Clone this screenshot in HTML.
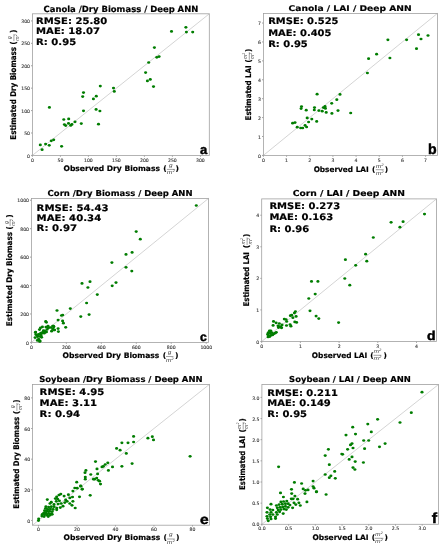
<!DOCTYPE html>
<html><head><meta charset="utf-8"><style>
html,body{margin:0;padding:0;background:#fff;}
svg{display:block;}
</style></head><body>
<svg width="444" height="550" viewBox="0 0 444 550" text-rendering="geometricPrecision">
<rect width="444" height="550" fill="#fff"/>
<line x1="32.4" y1="155.4" x2="209.3" y2="13.8" stroke="#bdbdbd" stroke-width="0.65"/>
<line x1="32.4" y1="155.4" x2="32.4" y2="156.7" stroke="#555" stroke-width="0.6"/>
<line x1="31.1" y1="155.4" x2="32.4" y2="155.4" stroke="#555" stroke-width="0.6"/>
<line x1="60.4" y1="155.4" x2="60.4" y2="156.7" stroke="#555" stroke-width="0.6"/>
<line x1="31.1" y1="132.99" x2="32.4" y2="132.99" stroke="#555" stroke-width="0.6"/>
<line x1="88.4" y1="155.4" x2="88.4" y2="156.7" stroke="#555" stroke-width="0.6"/>
<line x1="31.1" y1="110.58" x2="32.4" y2="110.58" stroke="#555" stroke-width="0.6"/>
<line x1="116.4" y1="155.4" x2="116.4" y2="156.7" stroke="#555" stroke-width="0.6"/>
<line x1="31.1" y1="88.16" x2="32.4" y2="88.16" stroke="#555" stroke-width="0.6"/>
<line x1="144.4" y1="155.4" x2="144.4" y2="156.7" stroke="#555" stroke-width="0.6"/>
<line x1="31.1" y1="65.75" x2="32.4" y2="65.75" stroke="#555" stroke-width="0.6"/>
<line x1="172.4" y1="155.4" x2="172.4" y2="156.7" stroke="#555" stroke-width="0.6"/>
<line x1="31.1" y1="43.34" x2="32.4" y2="43.34" stroke="#555" stroke-width="0.6"/>
<line x1="200.4" y1="155.4" x2="200.4" y2="156.7" stroke="#555" stroke-width="0.6"/>
<line x1="31.1" y1="20.93" x2="32.4" y2="20.93" stroke="#555" stroke-width="0.6"/>
<rect x="32.4" y="13.8" width="176.9" height="141.6" fill="none" stroke="#a0a0a0" stroke-width="0.8"/>
<line x1="263.4" y1="155.4" x2="437.4" y2="13.4" stroke="#bdbdbd" stroke-width="0.65"/>
<line x1="263.4" y1="155.4" x2="263.4" y2="156.7" stroke="#555" stroke-width="0.6"/>
<line x1="262.1" y1="155.4" x2="263.4" y2="155.4" stroke="#555" stroke-width="0.6"/>
<line x1="286.57" y1="155.4" x2="286.57" y2="156.7" stroke="#555" stroke-width="0.6"/>
<line x1="262.1" y1="136.49" x2="263.4" y2="136.49" stroke="#555" stroke-width="0.6"/>
<line x1="309.74" y1="155.4" x2="309.74" y2="156.7" stroke="#555" stroke-width="0.6"/>
<line x1="262.1" y1="117.58" x2="263.4" y2="117.58" stroke="#555" stroke-width="0.6"/>
<line x1="332.91" y1="155.4" x2="332.91" y2="156.7" stroke="#555" stroke-width="0.6"/>
<line x1="262.1" y1="98.68" x2="263.4" y2="98.68" stroke="#555" stroke-width="0.6"/>
<line x1="356.08" y1="155.4" x2="356.08" y2="156.7" stroke="#555" stroke-width="0.6"/>
<line x1="262.1" y1="79.77" x2="263.4" y2="79.77" stroke="#555" stroke-width="0.6"/>
<line x1="379.25" y1="155.4" x2="379.25" y2="156.7" stroke="#555" stroke-width="0.6"/>
<line x1="262.1" y1="60.86" x2="263.4" y2="60.86" stroke="#555" stroke-width="0.6"/>
<line x1="402.41" y1="155.4" x2="402.41" y2="156.7" stroke="#555" stroke-width="0.6"/>
<line x1="262.1" y1="41.95" x2="263.4" y2="41.95" stroke="#555" stroke-width="0.6"/>
<line x1="425.58" y1="155.4" x2="425.58" y2="156.7" stroke="#555" stroke-width="0.6"/>
<line x1="262.1" y1="23.04" x2="263.4" y2="23.04" stroke="#555" stroke-width="0.6"/>
<rect x="263.4" y="13.4" width="174" height="142" fill="none" stroke="#a0a0a0" stroke-width="0.8"/>
<line x1="31.4" y1="342.4" x2="208.5" y2="198.4" stroke="#bdbdbd" stroke-width="0.65"/>
<line x1="31.4" y1="342.4" x2="31.4" y2="343.7" stroke="#555" stroke-width="0.6"/>
<line x1="30.1" y1="342.4" x2="31.4" y2="342.4" stroke="#555" stroke-width="0.6"/>
<line x1="66.37" y1="342.4" x2="66.37" y2="343.7" stroke="#555" stroke-width="0.6"/>
<line x1="30.1" y1="313.97" x2="31.4" y2="313.97" stroke="#555" stroke-width="0.6"/>
<line x1="101.33" y1="342.4" x2="101.33" y2="343.7" stroke="#555" stroke-width="0.6"/>
<line x1="30.1" y1="285.54" x2="31.4" y2="285.54" stroke="#555" stroke-width="0.6"/>
<line x1="136.3" y1="342.4" x2="136.3" y2="343.7" stroke="#555" stroke-width="0.6"/>
<line x1="30.1" y1="257.11" x2="31.4" y2="257.11" stroke="#555" stroke-width="0.6"/>
<line x1="171.26" y1="342.4" x2="171.26" y2="343.7" stroke="#555" stroke-width="0.6"/>
<line x1="30.1" y1="228.68" x2="31.4" y2="228.68" stroke="#555" stroke-width="0.6"/>
<line x1="206.23" y1="342.4" x2="206.23" y2="343.7" stroke="#555" stroke-width="0.6"/>
<line x1="30.1" y1="200.25" x2="31.4" y2="200.25" stroke="#555" stroke-width="0.6"/>
<rect x="31.4" y="198.4" width="177.1" height="144" fill="none" stroke="#a0a0a0" stroke-width="0.8"/>
<line x1="261.7" y1="341.5" x2="436.5" y2="198.9" stroke="#bdbdbd" stroke-width="0.65"/>
<line x1="261.7" y1="341.5" x2="261.7" y2="342.8" stroke="#555" stroke-width="0.6"/>
<line x1="260.4" y1="341.5" x2="261.7" y2="341.5" stroke="#555" stroke-width="0.6"/>
<line x1="300.4" y1="341.5" x2="300.4" y2="342.8" stroke="#555" stroke-width="0.6"/>
<line x1="260.4" y1="309.93" x2="261.7" y2="309.93" stroke="#555" stroke-width="0.6"/>
<line x1="339.1" y1="341.5" x2="339.1" y2="342.8" stroke="#555" stroke-width="0.6"/>
<line x1="260.4" y1="278.36" x2="261.7" y2="278.36" stroke="#555" stroke-width="0.6"/>
<line x1="377.79" y1="341.5" x2="377.79" y2="342.8" stroke="#555" stroke-width="0.6"/>
<line x1="260.4" y1="246.79" x2="261.7" y2="246.79" stroke="#555" stroke-width="0.6"/>
<line x1="416.49" y1="341.5" x2="416.49" y2="342.8" stroke="#555" stroke-width="0.6"/>
<line x1="260.4" y1="215.22" x2="261.7" y2="215.22" stroke="#555" stroke-width="0.6"/>
<rect x="261.7" y="198.9" width="174.8" height="142.6" fill="none" stroke="#a0a0a0" stroke-width="0.8"/>
<line x1="32.5" y1="525.2" x2="209.4" y2="384.4" stroke="#bdbdbd" stroke-width="0.65"/>
<line x1="38.47" y1="525.2" x2="38.47" y2="526.5" stroke="#555" stroke-width="0.6"/>
<line x1="31.2" y1="520.45" x2="32.5" y2="520.45" stroke="#555" stroke-width="0.6"/>
<line x1="76.97" y1="525.2" x2="76.97" y2="526.5" stroke="#555" stroke-width="0.6"/>
<line x1="31.2" y1="489.81" x2="32.5" y2="489.81" stroke="#555" stroke-width="0.6"/>
<line x1="115.46" y1="525.2" x2="115.46" y2="526.5" stroke="#555" stroke-width="0.6"/>
<line x1="31.2" y1="459.17" x2="32.5" y2="459.17" stroke="#555" stroke-width="0.6"/>
<line x1="153.96" y1="525.2" x2="153.96" y2="526.5" stroke="#555" stroke-width="0.6"/>
<line x1="31.2" y1="428.52" x2="32.5" y2="428.52" stroke="#555" stroke-width="0.6"/>
<line x1="192.46" y1="525.2" x2="192.46" y2="526.5" stroke="#555" stroke-width="0.6"/>
<line x1="31.2" y1="397.88" x2="32.5" y2="397.88" stroke="#555" stroke-width="0.6"/>
<rect x="32.5" y="384.4" width="176.9" height="140.8" fill="none" stroke="#a0a0a0" stroke-width="0.8"/>
<line x1="261.9" y1="524.3" x2="438.5" y2="384.5" stroke="#bdbdbd" stroke-width="0.65"/>
<line x1="261.9" y1="524.3" x2="261.9" y2="525.6" stroke="#555" stroke-width="0.6"/>
<line x1="260.6" y1="524.3" x2="261.9" y2="524.3" stroke="#555" stroke-width="0.6"/>
<line x1="288.62" y1="524.3" x2="288.62" y2="525.6" stroke="#555" stroke-width="0.6"/>
<line x1="260.6" y1="503.15" x2="261.9" y2="503.15" stroke="#555" stroke-width="0.6"/>
<line x1="315.33" y1="524.3" x2="315.33" y2="525.6" stroke="#555" stroke-width="0.6"/>
<line x1="260.6" y1="482" x2="261.9" y2="482" stroke="#555" stroke-width="0.6"/>
<line x1="342.05" y1="524.3" x2="342.05" y2="525.6" stroke="#555" stroke-width="0.6"/>
<line x1="260.6" y1="460.85" x2="261.9" y2="460.85" stroke="#555" stroke-width="0.6"/>
<line x1="368.77" y1="524.3" x2="368.77" y2="525.6" stroke="#555" stroke-width="0.6"/>
<line x1="260.6" y1="439.7" x2="261.9" y2="439.7" stroke="#555" stroke-width="0.6"/>
<line x1="395.49" y1="524.3" x2="395.49" y2="525.6" stroke="#555" stroke-width="0.6"/>
<line x1="260.6" y1="418.55" x2="261.9" y2="418.55" stroke="#555" stroke-width="0.6"/>
<line x1="422.2" y1="524.3" x2="422.2" y2="525.6" stroke="#555" stroke-width="0.6"/>
<line x1="260.6" y1="397.4" x2="261.9" y2="397.4" stroke="#555" stroke-width="0.6"/>
<rect x="261.9" y="384.5" width="176.6" height="139.8" fill="none" stroke="#a0a0a0" stroke-width="0.8"/>
<line x1="166.9" y1="169.4" x2="174.9" y2="169.4" stroke="#333" stroke-width="0.45"/>
<line x1="13.9" y1="41.1" x2="13.9" y2="34.2" stroke="#333" stroke-width="0.45"/>
<line x1="375.8" y1="169.7" x2="383.7" y2="169.7" stroke="#333" stroke-width="0.45"/>
<line x1="249.3" y1="59.8" x2="249.3" y2="52.1" stroke="#333" stroke-width="0.45"/>
<line x1="166" y1="356.5" x2="173.4" y2="356.5" stroke="#333" stroke-width="0.45"/>
<line x1="373.5" y1="355.3" x2="381.4" y2="355.3" stroke="#333" stroke-width="0.45"/>
<line x1="166.9" y1="539" x2="174.8" y2="539" stroke="#333" stroke-width="0.45"/>
<line x1="10.1" y1="226" x2="10.1" y2="219.2" stroke="#333" stroke-width="0.45"/>
<line x1="247.1" y1="245" x2="247.1" y2="237.5" stroke="#333" stroke-width="0.45"/>
<line x1="16.9" y1="410.8" x2="16.9" y2="402.9" stroke="#333" stroke-width="0.45"/>
<line x1="243.2" y1="429.6" x2="243.2" y2="422.1" stroke="#333" stroke-width="0.45"/>
<line x1="374.6" y1="538.3" x2="383.4" y2="538.3" stroke="#333" stroke-width="0.45"/>
<g fill="#007d00">
<ellipse cx="100.3" cy="86.1" rx="1.55" ry="1.35"/>
<ellipse cx="113.5" cy="88.1" rx="1.55" ry="1.35"/>
<ellipse cx="114.3" cy="91.4" rx="1.55" ry="1.35"/>
<ellipse cx="83.5" cy="92.6" rx="1.55" ry="1.35"/>
<ellipse cx="82.7" cy="96.6" rx="1.55" ry="1.35"/>
<ellipse cx="96.3" cy="96.2" rx="1.55" ry="1.35"/>
<ellipse cx="93.4" cy="98.9" rx="1.55" ry="1.35"/>
<ellipse cx="49.4" cy="107.4" rx="1.55" ry="1.35"/>
<ellipse cx="83.5" cy="110.8" rx="1.55" ry="1.35"/>
<ellipse cx="96.1" cy="109.4" rx="1.55" ry="1.35"/>
<ellipse cx="99.9" cy="111" rx="1.55" ry="1.35"/>
<ellipse cx="63.8" cy="119.5" rx="1.55" ry="1.35"/>
<ellipse cx="68.7" cy="118.9" rx="1.55" ry="1.35"/>
<ellipse cx="64.4" cy="124.6" rx="1.55" ry="1.35"/>
<ellipse cx="65.7" cy="125.6" rx="1.55" ry="1.35"/>
<ellipse cx="68.5" cy="123.4" rx="1.55" ry="1.35"/>
<ellipse cx="70.7" cy="125.4" rx="1.55" ry="1.35"/>
<ellipse cx="71.9" cy="124.4" rx="1.55" ry="1.35"/>
<ellipse cx="75" cy="121.8" rx="1.55" ry="1.35"/>
<ellipse cx="81.3" cy="123.6" rx="1.55" ry="1.35"/>
<ellipse cx="98.5" cy="124.2" rx="1.55" ry="1.35"/>
<ellipse cx="40.3" cy="144.9" rx="1.55" ry="1.35"/>
<ellipse cx="45.6" cy="144.1" rx="1.55" ry="1.35"/>
<ellipse cx="42.1" cy="149.7" rx="1.55" ry="1.35"/>
<ellipse cx="49.2" cy="145.3" rx="1.55" ry="1.35"/>
<ellipse cx="51.3" cy="140.8" rx="1.55" ry="1.35"/>
<ellipse cx="53.7" cy="139.8" rx="1.55" ry="1.35"/>
<ellipse cx="61.6" cy="146.3" rx="1.55" ry="1.35"/>
<ellipse cx="171.5" cy="31.4" rx="1.55" ry="1.35"/>
<ellipse cx="185.9" cy="27.3" rx="1.55" ry="1.35"/>
<ellipse cx="186.4" cy="32.1" rx="1.55" ry="1.35"/>
<ellipse cx="192.7" cy="32.1" rx="1.55" ry="1.35"/>
<ellipse cx="154.4" cy="47.6" rx="1.55" ry="1.35"/>
<ellipse cx="156.8" cy="57.3" rx="1.55" ry="1.35"/>
<ellipse cx="159.1" cy="56.6" rx="1.55" ry="1.35"/>
<ellipse cx="148.7" cy="62.5" rx="1.55" ry="1.35"/>
<ellipse cx="145.6" cy="72.6" rx="1.55" ry="1.35"/>
<ellipse cx="147.4" cy="80.9" rx="1.55" ry="1.35"/>
<ellipse cx="150.3" cy="79.4" rx="1.55" ry="1.35"/>
<ellipse cx="153.5" cy="86.6" rx="1.55" ry="1.35"/>
<ellipse cx="317.1" cy="94.2" rx="1.55" ry="1.35"/>
<ellipse cx="340" cy="94.4" rx="1.55" ry="1.35"/>
<ellipse cx="336.8" cy="99.7" rx="1.55" ry="1.35"/>
<ellipse cx="331.7" cy="103.3" rx="1.55" ry="1.35"/>
<ellipse cx="301.5" cy="106.6" rx="1.55" ry="1.35"/>
<ellipse cx="301.1" cy="108.6" rx="1.55" ry="1.35"/>
<ellipse cx="306.2" cy="110.2" rx="1.55" ry="1.35"/>
<ellipse cx="314.5" cy="107.6" rx="1.55" ry="1.35"/>
<ellipse cx="314.3" cy="110" rx="1.55" ry="1.35"/>
<ellipse cx="318.9" cy="110.6" rx="1.55" ry="1.35"/>
<ellipse cx="322.2" cy="111.2" rx="1.55" ry="1.35"/>
<ellipse cx="323.4" cy="107.6" rx="1.55" ry="1.35"/>
<ellipse cx="325" cy="106.4" rx="1.55" ry="1.35"/>
<ellipse cx="325.4" cy="108.4" rx="1.55" ry="1.35"/>
<ellipse cx="326.2" cy="112.4" rx="1.55" ry="1.35"/>
<ellipse cx="331.9" cy="113.4" rx="1.55" ry="1.35"/>
<ellipse cx="338" cy="110.6" rx="1.55" ry="1.35"/>
<ellipse cx="350.7" cy="113" rx="1.55" ry="1.35"/>
<ellipse cx="307.2" cy="117.9" rx="1.55" ry="1.35"/>
<ellipse cx="311.8" cy="119.1" rx="1.55" ry="1.35"/>
<ellipse cx="308.6" cy="122" rx="1.55" ry="1.35"/>
<ellipse cx="316.7" cy="121.4" rx="1.55" ry="1.35"/>
<ellipse cx="292.6" cy="123.2" rx="1.55" ry="1.35"/>
<ellipse cx="295" cy="122.6" rx="1.55" ry="1.35"/>
<ellipse cx="297.2" cy="127.2" rx="1.55" ry="1.35"/>
<ellipse cx="300.7" cy="128" rx="1.55" ry="1.35"/>
<ellipse cx="302.7" cy="128" rx="1.55" ry="1.35"/>
<ellipse cx="305.1" cy="125.4" rx="1.55" ry="1.35"/>
<ellipse cx="306.6" cy="127" rx="1.55" ry="1.35"/>
<ellipse cx="387.9" cy="39.8" rx="1.55" ry="1.35"/>
<ellipse cx="406.6" cy="39.8" rx="1.55" ry="1.35"/>
<ellipse cx="418.5" cy="34.7" rx="1.55" ry="1.35"/>
<ellipse cx="421" cy="39" rx="1.55" ry="1.35"/>
<ellipse cx="428" cy="35.5" rx="1.55" ry="1.35"/>
<ellipse cx="416.5" cy="48.7" rx="1.55" ry="1.35"/>
<ellipse cx="376.6" cy="54.2" rx="1.55" ry="1.35"/>
<ellipse cx="368.6" cy="58.7" rx="1.55" ry="1.35"/>
<ellipse cx="389.9" cy="58" rx="1.55" ry="1.35"/>
<ellipse cx="367.4" cy="73" rx="1.55" ry="1.35"/>
<ellipse cx="196.3" cy="205.5" rx="1.55" ry="1.35"/>
<ellipse cx="136.2" cy="231.6" rx="1.55" ry="1.35"/>
<ellipse cx="140.3" cy="239.2" rx="1.55" ry="1.35"/>
<ellipse cx="126" cy="254.4" rx="1.55" ry="1.35"/>
<ellipse cx="132.1" cy="252.4" rx="1.55" ry="1.35"/>
<ellipse cx="111.9" cy="262.6" rx="1.55" ry="1.35"/>
<ellipse cx="126" cy="267.3" rx="1.55" ry="1.35"/>
<ellipse cx="131.8" cy="271.1" rx="1.55" ry="1.35"/>
<ellipse cx="82" cy="283.4" rx="1.55" ry="1.35"/>
<ellipse cx="90" cy="281.7" rx="1.55" ry="1.35"/>
<ellipse cx="87.9" cy="287.5" rx="1.55" ry="1.35"/>
<ellipse cx="112.2" cy="285.8" rx="1.55" ry="1.35"/>
<ellipse cx="116" cy="282.6" rx="1.55" ry="1.35"/>
<ellipse cx="97.3" cy="294.6" rx="1.55" ry="1.35"/>
<ellipse cx="86.6" cy="303" rx="1.55" ry="1.35"/>
<ellipse cx="70.3" cy="308.6" rx="1.55" ry="1.35"/>
<ellipse cx="57" cy="310.5" rx="1.55" ry="1.35"/>
<ellipse cx="89.1" cy="314.6" rx="1.55" ry="1.35"/>
<ellipse cx="80.8" cy="316.6" rx="1.55" ry="1.35"/>
<ellipse cx="61.5" cy="315.5" rx="1.55" ry="1.35"/>
<ellipse cx="62.7" cy="315" rx="1.55" ry="1.35"/>
<ellipse cx="58.1" cy="320.1" rx="1.55" ry="1.35"/>
<ellipse cx="62.6" cy="320.9" rx="1.55" ry="1.35"/>
<ellipse cx="63.4" cy="323.2" rx="1.55" ry="1.35"/>
<ellipse cx="65.7" cy="327.3" rx="1.55" ry="1.35"/>
<ellipse cx="45.7" cy="321.4" rx="1.55" ry="1.35"/>
<ellipse cx="46.4" cy="322.3" rx="1.55" ry="1.35"/>
<ellipse cx="48" cy="326" rx="1.55" ry="1.35"/>
<ellipse cx="48.5" cy="327.4" rx="1.55" ry="1.35"/>
<ellipse cx="52.7" cy="326" rx="1.55" ry="1.35"/>
<ellipse cx="53.8" cy="326.8" rx="1.55" ry="1.35"/>
<ellipse cx="51.6" cy="331.2" rx="1.55" ry="1.35"/>
<ellipse cx="54.6" cy="330" rx="1.55" ry="1.35"/>
<ellipse cx="58.1" cy="328.6" rx="1.55" ry="1.35"/>
<ellipse cx="58.4" cy="331.6" rx="1.55" ry="1.35"/>
<ellipse cx="42.4" cy="326.9" rx="1.55" ry="1.35"/>
<ellipse cx="40.5" cy="327.8" rx="1.55" ry="1.35"/>
<ellipse cx="39.5" cy="329.6" rx="1.55" ry="1.35"/>
<ellipse cx="43.5" cy="330.7" rx="1.55" ry="1.35"/>
<ellipse cx="45.9" cy="331.9" rx="1.55" ry="1.35"/>
<ellipse cx="47" cy="329.5" rx="1.55" ry="1.35"/>
<ellipse cx="35.4" cy="332.6" rx="1.55" ry="1.35"/>
<ellipse cx="35.9" cy="334.6" rx="1.55" ry="1.35"/>
<ellipse cx="35.1" cy="337.6" rx="1.55" ry="1.35"/>
<ellipse cx="37.6" cy="336.6" rx="1.55" ry="1.35"/>
<ellipse cx="38.5" cy="334.3" rx="1.55" ry="1.35"/>
<ellipse cx="40.7" cy="333.2" rx="1.55" ry="1.35"/>
<ellipse cx="42.4" cy="333" rx="1.55" ry="1.35"/>
<ellipse cx="44.2" cy="333.2" rx="1.55" ry="1.35"/>
<ellipse cx="41.1" cy="336" rx="1.55" ry="1.35"/>
<ellipse cx="38.8" cy="339.3" rx="1.55" ry="1.35"/>
<ellipse cx="39.7" cy="341.4" rx="1.55" ry="1.35"/>
<ellipse cx="37.4" cy="340.4" rx="1.55" ry="1.35"/>
<ellipse cx="41.6" cy="337.3" rx="1.55" ry="1.35"/>
<ellipse cx="52.7" cy="328.9" rx="1.55" ry="1.35"/>
<ellipse cx="54.1" cy="329.8" rx="1.55" ry="1.35"/>
<ellipse cx="50.9" cy="327.5" rx="1.55" ry="1.35"/>
<ellipse cx="53.6" cy="326.2" rx="1.55" ry="1.35"/>
<ellipse cx="48.2" cy="328" rx="1.55" ry="1.35"/>
<ellipse cx="46" cy="327.1" rx="1.55" ry="1.35"/>
<ellipse cx="42.8" cy="332" rx="1.55" ry="1.35"/>
<ellipse cx="41" cy="334.7" rx="1.55" ry="1.35"/>
<ellipse cx="39.7" cy="336.5" rx="1.55" ry="1.35"/>
<ellipse cx="37.4" cy="335.6" rx="1.55" ry="1.35"/>
<ellipse cx="38.3" cy="339.7" rx="1.55" ry="1.35"/>
<ellipse cx="40.1" cy="341" rx="1.55" ry="1.35"/>
<ellipse cx="35.6" cy="332" rx="1.55" ry="1.35"/>
<ellipse cx="44.6" cy="331.1" rx="1.55" ry="1.35"/>
<ellipse cx="46.4" cy="332" rx="1.55" ry="1.35"/>
<ellipse cx="315.2" cy="294.1" rx="1.55" ry="1.35"/>
<ellipse cx="308.8" cy="298.5" rx="1.55" ry="1.35"/>
<ellipse cx="310" cy="310.8" rx="1.55" ry="1.35"/>
<ellipse cx="316.1" cy="316.1" rx="1.55" ry="1.35"/>
<ellipse cx="318.8" cy="318.6" rx="1.55" ry="1.35"/>
<ellipse cx="295.4" cy="311.6" rx="1.55" ry="1.35"/>
<ellipse cx="294.4" cy="313" rx="1.55" ry="1.35"/>
<ellipse cx="290.4" cy="315.7" rx="1.55" ry="1.35"/>
<ellipse cx="291.7" cy="315" rx="1.55" ry="1.35"/>
<ellipse cx="296.1" cy="316.4" rx="1.55" ry="1.35"/>
<ellipse cx="292.9" cy="317.7" rx="1.55" ry="1.35"/>
<ellipse cx="284.3" cy="319.1" rx="1.55" ry="1.35"/>
<ellipse cx="286.1" cy="319.5" rx="1.55" ry="1.35"/>
<ellipse cx="286.7" cy="321.5" rx="1.55" ry="1.35"/>
<ellipse cx="294.8" cy="321.9" rx="1.55" ry="1.35"/>
<ellipse cx="296.6" cy="322.4" rx="1.55" ry="1.35"/>
<ellipse cx="273.5" cy="321.4" rx="1.55" ry="1.35"/>
<ellipse cx="276.1" cy="322.8" rx="1.55" ry="1.35"/>
<ellipse cx="279.3" cy="323.5" rx="1.55" ry="1.35"/>
<ellipse cx="282" cy="324.9" rx="1.55" ry="1.35"/>
<ellipse cx="273.1" cy="325.4" rx="1.55" ry="1.35"/>
<ellipse cx="278" cy="325.8" rx="1.55" ry="1.35"/>
<ellipse cx="279.6" cy="326.5" rx="1.55" ry="1.35"/>
<ellipse cx="280.9" cy="327.2" rx="1.55" ry="1.35"/>
<ellipse cx="278.5" cy="327.6" rx="1.55" ry="1.35"/>
<ellipse cx="281.6" cy="327.8" rx="1.55" ry="1.35"/>
<ellipse cx="286.5" cy="325.5" rx="1.55" ry="1.35"/>
<ellipse cx="290.1" cy="324.5" rx="1.55" ry="1.35"/>
<ellipse cx="290.9" cy="326.2" rx="1.55" ry="1.35"/>
<ellipse cx="269.4" cy="330.9" rx="1.55" ry="1.35"/>
<ellipse cx="270.8" cy="330.8" rx="1.55" ry="1.35"/>
<ellipse cx="268.4" cy="332.6" rx="1.55" ry="1.35"/>
<ellipse cx="270.1" cy="333" rx="1.55" ry="1.35"/>
<ellipse cx="271.7" cy="332.6" rx="1.55" ry="1.35"/>
<ellipse cx="273.5" cy="333.9" rx="1.55" ry="1.35"/>
<ellipse cx="275" cy="333.2" rx="1.55" ry="1.35"/>
<ellipse cx="276.3" cy="332.3" rx="1.55" ry="1.35"/>
<ellipse cx="267.7" cy="334.6" rx="1.55" ry="1.35"/>
<ellipse cx="268.8" cy="335.9" rx="1.55" ry="1.35"/>
<ellipse cx="268.1" cy="337" rx="1.55" ry="1.35"/>
<ellipse cx="270.8" cy="335.3" rx="1.55" ry="1.35"/>
<ellipse cx="272.5" cy="334.9" rx="1.55" ry="1.35"/>
<ellipse cx="269.8" cy="336.6" rx="1.55" ry="1.35"/>
<ellipse cx="268.1" cy="333.6" rx="1.55" ry="1.35"/>
<ellipse cx="424.5" cy="214.1" rx="1.55" ry="1.35"/>
<ellipse cx="391.1" cy="222.3" rx="1.55" ry="1.35"/>
<ellipse cx="403.1" cy="221.7" rx="1.55" ry="1.35"/>
<ellipse cx="399.9" cy="227.2" rx="1.55" ry="1.35"/>
<ellipse cx="373.3" cy="237.5" rx="1.55" ry="1.35"/>
<ellipse cx="365.6" cy="254.2" rx="1.55" ry="1.35"/>
<ellipse cx="366.8" cy="261.2" rx="1.55" ry="1.35"/>
<ellipse cx="345.4" cy="259.7" rx="1.55" ry="1.35"/>
<ellipse cx="355.7" cy="265.3" rx="1.55" ry="1.35"/>
<ellipse cx="344.8" cy="278.5" rx="1.55" ry="1.35"/>
<ellipse cx="349.8" cy="285.2" rx="1.55" ry="1.35"/>
<ellipse cx="311.5" cy="281.4" rx="1.55" ry="1.35"/>
<ellipse cx="317.9" cy="281.4" rx="1.55" ry="1.35"/>
<ellipse cx="338.6" cy="322.6" rx="1.55" ry="1.35"/>
<ellipse cx="133.6" cy="436.4" rx="1.55" ry="1.35"/>
<ellipse cx="147.9" cy="438.2" rx="1.55" ry="1.35"/>
<ellipse cx="152.3" cy="436.7" rx="1.55" ry="1.35"/>
<ellipse cx="153.5" cy="439.9" rx="1.55" ry="1.35"/>
<ellipse cx="121.9" cy="442.8" rx="1.55" ry="1.35"/>
<ellipse cx="128" cy="442.8" rx="1.55" ry="1.35"/>
<ellipse cx="133.6" cy="442" rx="1.55" ry="1.35"/>
<ellipse cx="116.6" cy="448.4" rx="1.55" ry="1.35"/>
<ellipse cx="120.1" cy="450.2" rx="1.55" ry="1.35"/>
<ellipse cx="126.3" cy="453.4" rx="1.55" ry="1.35"/>
<ellipse cx="190.1" cy="456.3" rx="1.55" ry="1.35"/>
<ellipse cx="95.5" cy="461.6" rx="1.55" ry="1.35"/>
<ellipse cx="107.8" cy="462.8" rx="1.55" ry="1.35"/>
<ellipse cx="105.2" cy="464.5" rx="1.55" ry="1.35"/>
<ellipse cx="103.4" cy="466.3" rx="1.55" ry="1.35"/>
<ellipse cx="102" cy="466.9" rx="1.55" ry="1.35"/>
<ellipse cx="112.5" cy="466.9" rx="1.55" ry="1.35"/>
<ellipse cx="121.9" cy="466.3" rx="1.55" ry="1.35"/>
<ellipse cx="132.1" cy="463.6" rx="1.55" ry="1.35"/>
<ellipse cx="97" cy="468.9" rx="1.55" ry="1.35"/>
<ellipse cx="108.4" cy="470.4" rx="1.55" ry="1.35"/>
<ellipse cx="85.9" cy="470.4" rx="1.55" ry="1.35"/>
<ellipse cx="85" cy="472.7" rx="1.55" ry="1.35"/>
<ellipse cx="90.8" cy="474.5" rx="1.55" ry="1.35"/>
<ellipse cx="97.6" cy="473.9" rx="1.55" ry="1.35"/>
<ellipse cx="85.3" cy="477.1" rx="1.55" ry="1.35"/>
<ellipse cx="85.3" cy="479.2" rx="1.55" ry="1.35"/>
<ellipse cx="94.6" cy="479.2" rx="1.55" ry="1.35"/>
<ellipse cx="96.7" cy="478" rx="1.55" ry="1.35"/>
<ellipse cx="98.2" cy="480.3" rx="1.55" ry="1.35"/>
<ellipse cx="99.6" cy="481.2" rx="1.55" ry="1.35"/>
<ellipse cx="100.5" cy="484.1" rx="1.55" ry="1.35"/>
<ellipse cx="82.3" cy="489.1" rx="1.55" ry="1.35"/>
<ellipse cx="80.9" cy="486.2" rx="1.55" ry="1.35"/>
<ellipse cx="90.2" cy="495.3" rx="1.55" ry="1.35"/>
<ellipse cx="93.5" cy="479.2" rx="1.55" ry="1.35"/>
<ellipse cx="76.7" cy="482.2" rx="1.55" ry="1.35"/>
<ellipse cx="80.6" cy="485.9" rx="1.55" ry="1.35"/>
<ellipse cx="74.8" cy="488" rx="1.55" ry="1.35"/>
<ellipse cx="77.2" cy="488.2" rx="1.55" ry="1.35"/>
<ellipse cx="82.1" cy="489.2" rx="1.55" ry="1.35"/>
<ellipse cx="79.5" cy="496.8" rx="1.55" ry="1.35"/>
<ellipse cx="72.9" cy="491.1" rx="1.55" ry="1.35"/>
<ellipse cx="60.8" cy="494.1" rx="1.55" ry="1.35"/>
<ellipse cx="59" cy="495" rx="1.55" ry="1.35"/>
<ellipse cx="68.4" cy="494.7" rx="1.55" ry="1.35"/>
<ellipse cx="64.1" cy="496.1" rx="1.55" ry="1.35"/>
<ellipse cx="56.7" cy="496.8" rx="1.55" ry="1.35"/>
<ellipse cx="55.4" cy="498.6" rx="1.55" ry="1.35"/>
<ellipse cx="57.6" cy="499" rx="1.55" ry="1.35"/>
<ellipse cx="47.3" cy="499.6" rx="1.55" ry="1.35"/>
<ellipse cx="69.8" cy="497.9" rx="1.55" ry="1.35"/>
<ellipse cx="72.5" cy="497" rx="1.55" ry="1.35"/>
<ellipse cx="59.4" cy="500.8" rx="1.55" ry="1.35"/>
<ellipse cx="56.3" cy="501.3" rx="1.55" ry="1.35"/>
<ellipse cx="65.7" cy="499.9" rx="1.55" ry="1.35"/>
<ellipse cx="67.1" cy="501.3" rx="1.55" ry="1.35"/>
<ellipse cx="72.9" cy="501.3" rx="1.55" ry="1.35"/>
<ellipse cx="51.3" cy="502.2" rx="1.55" ry="1.35"/>
<ellipse cx="50" cy="503.5" rx="1.55" ry="1.35"/>
<ellipse cx="54" cy="504.4" rx="1.55" ry="1.35"/>
<ellipse cx="58.1" cy="504" rx="1.55" ry="1.35"/>
<ellipse cx="61.2" cy="503.5" rx="1.55" ry="1.35"/>
<ellipse cx="64.8" cy="502.6" rx="1.55" ry="1.35"/>
<ellipse cx="69.8" cy="503.5" rx="1.55" ry="1.35"/>
<ellipse cx="72" cy="505.3" rx="1.55" ry="1.35"/>
<ellipse cx="63" cy="506.2" rx="1.55" ry="1.35"/>
<ellipse cx="60.3" cy="507.6" rx="1.55" ry="1.35"/>
<ellipse cx="56.7" cy="508" rx="1.55" ry="1.35"/>
<ellipse cx="54" cy="506.7" rx="1.55" ry="1.35"/>
<ellipse cx="45.9" cy="506.7" rx="1.55" ry="1.35"/>
<ellipse cx="48.6" cy="507.1" rx="1.55" ry="1.35"/>
<ellipse cx="51.3" cy="506.7" rx="1.55" ry="1.35"/>
<ellipse cx="45.5" cy="508.5" rx="1.55" ry="1.35"/>
<ellipse cx="47.7" cy="509.4" rx="1.55" ry="1.35"/>
<ellipse cx="50.4" cy="508.9" rx="1.55" ry="1.35"/>
<ellipse cx="53.1" cy="509.4" rx="1.55" ry="1.35"/>
<ellipse cx="56.7" cy="509.8" rx="1.55" ry="1.35"/>
<ellipse cx="44.6" cy="510.7" rx="1.55" ry="1.35"/>
<ellipse cx="46.8" cy="511.2" rx="1.55" ry="1.35"/>
<ellipse cx="49.5" cy="511.2" rx="1.55" ry="1.35"/>
<ellipse cx="52.2" cy="511.6" rx="1.55" ry="1.35"/>
<ellipse cx="43.7" cy="513" rx="1.55" ry="1.35"/>
<ellipse cx="45.9" cy="513.2" rx="1.55" ry="1.35"/>
<ellipse cx="48.6" cy="513.4" rx="1.55" ry="1.35"/>
<ellipse cx="51.3" cy="513.6" rx="1.55" ry="1.35"/>
<ellipse cx="42.3" cy="514.3" rx="1.55" ry="1.35"/>
<ellipse cx="44.6" cy="514.8" rx="1.55" ry="1.35"/>
<ellipse cx="47.3" cy="515.2" rx="1.55" ry="1.35"/>
<ellipse cx="50" cy="515.2" rx="1.55" ry="1.35"/>
<ellipse cx="52.2" cy="514.3" rx="1.55" ry="1.35"/>
<ellipse cx="41.9" cy="516.1" rx="1.55" ry="1.35"/>
<ellipse cx="44.1" cy="516.6" rx="1.55" ry="1.35"/>
<ellipse cx="48.2" cy="516.6" rx="1.55" ry="1.35"/>
<ellipse cx="38.7" cy="518.8" rx="1.55" ry="1.35"/>
<ellipse cx="38.5" cy="520.6" rx="1.55" ry="1.35"/>
<ellipse cx="75.2" cy="508" rx="1.55" ry="1.35"/>
<ellipse cx="313.1" cy="481.1" rx="1.55" ry="1.35"/>
<ellipse cx="294.4" cy="482.4" rx="1.55" ry="1.35"/>
<ellipse cx="301.6" cy="483.5" rx="1.55" ry="1.35"/>
<ellipse cx="313.1" cy="486.5" rx="1.55" ry="1.35"/>
<ellipse cx="314" cy="488.2" rx="1.55" ry="1.35"/>
<ellipse cx="316.5" cy="491.6" rx="1.55" ry="1.35"/>
<ellipse cx="303.2" cy="488.9" rx="1.55" ry="1.35"/>
<ellipse cx="305.5" cy="490.3" rx="1.55" ry="1.35"/>
<ellipse cx="308" cy="489.9" rx="1.55" ry="1.35"/>
<ellipse cx="305" cy="493.6" rx="1.55" ry="1.35"/>
<ellipse cx="291.5" cy="489.3" rx="1.55" ry="1.35"/>
<ellipse cx="306.9" cy="501.9" rx="1.55" ry="1.35"/>
<ellipse cx="422" cy="392.2" rx="1.55" ry="1.35"/>
<ellipse cx="411.3" cy="412.7" rx="1.55" ry="1.35"/>
<ellipse cx="400" cy="422.5" rx="1.55" ry="1.35"/>
<ellipse cx="377.6" cy="419.3" rx="1.55" ry="1.35"/>
<ellipse cx="367.8" cy="424.1" rx="1.55" ry="1.35"/>
<ellipse cx="352.7" cy="427.2" rx="1.55" ry="1.35"/>
<ellipse cx="371.3" cy="431.9" rx="1.55" ry="1.35"/>
<ellipse cx="355.5" cy="434.1" rx="1.55" ry="1.35"/>
<ellipse cx="346" cy="435.1" rx="1.55" ry="1.35"/>
<ellipse cx="363.7" cy="440.5" rx="1.55" ry="1.35"/>
<ellipse cx="368.7" cy="440.5" rx="1.55" ry="1.35"/>
<ellipse cx="352" cy="443.6" rx="1.55" ry="1.35"/>
<ellipse cx="350.5" cy="444.9" rx="1.55" ry="1.35"/>
<ellipse cx="353" cy="448" rx="1.55" ry="1.35"/>
<ellipse cx="347.6" cy="449.3" rx="1.55" ry="1.35"/>
<ellipse cx="364.6" cy="448.7" rx="1.55" ry="1.35"/>
<ellipse cx="385.1" cy="443.6" rx="1.55" ry="1.35"/>
<ellipse cx="379.5" cy="446.8" rx="1.55" ry="1.35"/>
<ellipse cx="328.4" cy="449.3" rx="1.55" ry="1.35"/>
<ellipse cx="342.6" cy="454.3" rx="1.55" ry="1.35"/>
<ellipse cx="325.2" cy="455.6" rx="1.55" ry="1.35"/>
<ellipse cx="352" cy="456.9" rx="1.55" ry="1.35"/>
<ellipse cx="349.2" cy="459.4" rx="1.55" ry="1.35"/>
<ellipse cx="355.2" cy="461.6" rx="1.55" ry="1.35"/>
<ellipse cx="363.4" cy="462.5" rx="1.55" ry="1.35"/>
<ellipse cx="329.3" cy="464.7" rx="1.55" ry="1.35"/>
<ellipse cx="353" cy="467.6" rx="1.55" ry="1.35"/>
<ellipse cx="354.9" cy="469.5" rx="1.55" ry="1.35"/>
<ellipse cx="334.7" cy="471.4" rx="1.55" ry="1.35"/>
<ellipse cx="325.2" cy="474.5" rx="1.55" ry="1.35"/>
<ellipse cx="330.9" cy="475.8" rx="1.55" ry="1.35"/>
<ellipse cx="329.3" cy="477.7" rx="1.55" ry="1.35"/>
<ellipse cx="335.3" cy="478.3" rx="1.55" ry="1.35"/>
<ellipse cx="278.6" cy="466.8" rx="1.55" ry="1.35"/>
<ellipse cx="341.8" cy="454" rx="1.55" ry="1.35"/>
<ellipse cx="326.1" cy="494.5" rx="1.55" ry="1.35"/>
<ellipse cx="316.4" cy="491.9" rx="1.55" ry="1.35"/>
<ellipse cx="280.5" cy="492.9" rx="1.55" ry="1.35"/>
<ellipse cx="291.7" cy="493.6" rx="1.55" ry="1.35"/>
<ellipse cx="283.4" cy="497" rx="1.55" ry="1.35"/>
<ellipse cx="294.9" cy="496.1" rx="1.55" ry="1.35"/>
<ellipse cx="291.3" cy="498.8" rx="1.55" ry="1.35"/>
<ellipse cx="293.1" cy="498.8" rx="1.55" ry="1.35"/>
<ellipse cx="297.6" cy="499.2" rx="1.55" ry="1.35"/>
<ellipse cx="280.9" cy="501.9" rx="1.55" ry="1.35"/>
<ellipse cx="283.6" cy="501.5" rx="1.55" ry="1.35"/>
<ellipse cx="286.8" cy="501" rx="1.55" ry="1.35"/>
<ellipse cx="271" cy="504.2" rx="1.55" ry="1.35"/>
<ellipse cx="276.4" cy="505.5" rx="1.55" ry="1.35"/>
<ellipse cx="279.1" cy="504.6" rx="1.55" ry="1.35"/>
<ellipse cx="282.3" cy="504.2" rx="1.55" ry="1.35"/>
<ellipse cx="285.4" cy="503.7" rx="1.55" ry="1.35"/>
<ellipse cx="288.1" cy="503.7" rx="1.55" ry="1.35"/>
<ellipse cx="289.9" cy="505.1" rx="1.55" ry="1.35"/>
<ellipse cx="294" cy="502.8" rx="1.55" ry="1.35"/>
<ellipse cx="295.8" cy="504.6" rx="1.55" ry="1.35"/>
<ellipse cx="298.9" cy="502.8" rx="1.55" ry="1.35"/>
<ellipse cx="300.3" cy="505.5" rx="1.55" ry="1.35"/>
<ellipse cx="267.4" cy="507.8" rx="1.55" ry="1.35"/>
<ellipse cx="277.3" cy="507.8" rx="1.55" ry="1.35"/>
<ellipse cx="280" cy="507.3" rx="1.55" ry="1.35"/>
<ellipse cx="282.7" cy="506.9" rx="1.55" ry="1.35"/>
<ellipse cx="285.4" cy="506.4" rx="1.55" ry="1.35"/>
<ellipse cx="288.1" cy="507.3" rx="1.55" ry="1.35"/>
<ellipse cx="292.6" cy="507.8" rx="1.55" ry="1.35"/>
<ellipse cx="270.1" cy="509.6" rx="1.55" ry="1.35"/>
<ellipse cx="272.8" cy="510" rx="1.55" ry="1.35"/>
<ellipse cx="278.2" cy="510" rx="1.55" ry="1.35"/>
<ellipse cx="280.9" cy="509.6" rx="1.55" ry="1.35"/>
<ellipse cx="284.1" cy="509.1" rx="1.55" ry="1.35"/>
<ellipse cx="286.3" cy="509.6" rx="1.55" ry="1.35"/>
<ellipse cx="267" cy="512.3" rx="1.55" ry="1.35"/>
<ellipse cx="271" cy="512.3" rx="1.55" ry="1.35"/>
<ellipse cx="276.4" cy="512.3" rx="1.55" ry="1.35"/>
<ellipse cx="279.6" cy="511.8" rx="1.55" ry="1.35"/>
<ellipse cx="283.2" cy="513.6" rx="1.55" ry="1.35"/>
<ellipse cx="269.7" cy="514.5" rx="1.55" ry="1.35"/>
<ellipse cx="272.8" cy="514.5" rx="1.55" ry="1.35"/>
<ellipse cx="277.3" cy="514.5" rx="1.55" ry="1.35"/>
<ellipse cx="267" cy="516.3" rx="1.55" ry="1.35"/>
<ellipse cx="270.6" cy="516.8" rx="1.55" ry="1.35"/>
<ellipse cx="275.5" cy="516.8" rx="1.55" ry="1.35"/>
<ellipse cx="267.4" cy="518.6" rx="1.55" ry="1.35"/>
<ellipse cx="271" cy="519" rx="1.55" ry="1.35"/>
<ellipse cx="275.5" cy="518.6" rx="1.55" ry="1.35"/>
<ellipse cx="268.3" cy="520.8" rx="1.55" ry="1.35"/>
</g>
<text transform="translate(32.4 161.5)" font-size="4.6" font-family="DejaVu Sans, sans-serif" stroke="#444" stroke-width="0.12" fill="#333" text-anchor="middle">0</text>
<text transform="translate(30 157.5)" font-size="4.6" font-family="DejaVu Sans, sans-serif" stroke="#444" stroke-width="0.12" fill="#333" text-anchor="end">0</text>
<text transform="translate(60.4 161.5)" font-size="4.6" font-family="DejaVu Sans, sans-serif" stroke="#444" stroke-width="0.12" fill="#333" text-anchor="middle">50</text>
<text transform="translate(30 135.09)" font-size="4.6" font-family="DejaVu Sans, sans-serif" stroke="#444" stroke-width="0.12" fill="#333" text-anchor="end">50</text>
<text transform="translate(88.4 161.5)" font-size="4.6" font-family="DejaVu Sans, sans-serif" stroke="#444" stroke-width="0.12" fill="#333" text-anchor="middle">100</text>
<text transform="translate(30 112.68)" font-size="4.6" font-family="DejaVu Sans, sans-serif" stroke="#444" stroke-width="0.12" fill="#333" text-anchor="end">100</text>
<text transform="translate(116.4 161.5)" font-size="4.6" font-family="DejaVu Sans, sans-serif" stroke="#444" stroke-width="0.12" fill="#333" text-anchor="middle">150</text>
<text transform="translate(30 90.26)" font-size="4.6" font-family="DejaVu Sans, sans-serif" stroke="#444" stroke-width="0.12" fill="#333" text-anchor="end">150</text>
<text transform="translate(144.4 161.5)" font-size="4.6" font-family="DejaVu Sans, sans-serif" stroke="#444" stroke-width="0.12" fill="#333" text-anchor="middle">200</text>
<text transform="translate(30 67.85)" font-size="4.6" font-family="DejaVu Sans, sans-serif" stroke="#444" stroke-width="0.12" fill="#333" text-anchor="end">200</text>
<text transform="translate(172.4 161.5)" font-size="4.6" font-family="DejaVu Sans, sans-serif" stroke="#444" stroke-width="0.12" fill="#333" text-anchor="middle">250</text>
<text transform="translate(30 45.44)" font-size="4.6" font-family="DejaVu Sans, sans-serif" stroke="#444" stroke-width="0.12" fill="#333" text-anchor="end">250</text>
<text transform="translate(200.4 161.5)" font-size="4.6" font-family="DejaVu Sans, sans-serif" stroke="#444" stroke-width="0.12" fill="#333" text-anchor="middle">300</text>
<text transform="translate(30 23.03)" font-size="4.6" font-family="DejaVu Sans, sans-serif" stroke="#444" stroke-width="0.12" fill="#333" text-anchor="end">300</text>
<text transform="translate(263.4 161.5)" font-size="4.6" font-family="DejaVu Sans, sans-serif" stroke="#444" stroke-width="0.12" fill="#333" text-anchor="middle">0</text>
<text transform="translate(261 157.5)" font-size="4.6" font-family="DejaVu Sans, sans-serif" stroke="#444" stroke-width="0.12" fill="#333" text-anchor="end">0</text>
<text transform="translate(286.57 161.5)" font-size="4.6" font-family="DejaVu Sans, sans-serif" stroke="#444" stroke-width="0.12" fill="#333" text-anchor="middle">1</text>
<text transform="translate(261 138.59)" font-size="4.6" font-family="DejaVu Sans, sans-serif" stroke="#444" stroke-width="0.12" fill="#333" text-anchor="end">1</text>
<text transform="translate(309.74 161.5)" font-size="4.6" font-family="DejaVu Sans, sans-serif" stroke="#444" stroke-width="0.12" fill="#333" text-anchor="middle">2</text>
<text transform="translate(261 119.68)" font-size="4.6" font-family="DejaVu Sans, sans-serif" stroke="#444" stroke-width="0.12" fill="#333" text-anchor="end">2</text>
<text transform="translate(332.91 161.5)" font-size="4.6" font-family="DejaVu Sans, sans-serif" stroke="#444" stroke-width="0.12" fill="#333" text-anchor="middle">3</text>
<text transform="translate(261 100.78)" font-size="4.6" font-family="DejaVu Sans, sans-serif" stroke="#444" stroke-width="0.12" fill="#333" text-anchor="end">3</text>
<text transform="translate(356.08 161.5)" font-size="4.6" font-family="DejaVu Sans, sans-serif" stroke="#444" stroke-width="0.12" fill="#333" text-anchor="middle">4</text>
<text transform="translate(261 81.87)" font-size="4.6" font-family="DejaVu Sans, sans-serif" stroke="#444" stroke-width="0.12" fill="#333" text-anchor="end">4</text>
<text transform="translate(379.25 161.5)" font-size="4.6" font-family="DejaVu Sans, sans-serif" stroke="#444" stroke-width="0.12" fill="#333" text-anchor="middle">5</text>
<text transform="translate(261 62.96)" font-size="4.6" font-family="DejaVu Sans, sans-serif" stroke="#444" stroke-width="0.12" fill="#333" text-anchor="end">5</text>
<text transform="translate(402.41 161.5)" font-size="4.6" font-family="DejaVu Sans, sans-serif" stroke="#444" stroke-width="0.12" fill="#333" text-anchor="middle">6</text>
<text transform="translate(261 44.05)" font-size="4.6" font-family="DejaVu Sans, sans-serif" stroke="#444" stroke-width="0.12" fill="#333" text-anchor="end">6</text>
<text transform="translate(425.58 161.5)" font-size="4.6" font-family="DejaVu Sans, sans-serif" stroke="#444" stroke-width="0.12" fill="#333" text-anchor="middle">7</text>
<text transform="translate(261 25.14)" font-size="4.6" font-family="DejaVu Sans, sans-serif" stroke="#444" stroke-width="0.12" fill="#333" text-anchor="end">7</text>
<text transform="translate(31.4 348.5)" font-size="4.6" font-family="DejaVu Sans, sans-serif" stroke="#444" stroke-width="0.12" fill="#333" text-anchor="middle">0</text>
<text transform="translate(29 344.5)" font-size="4.6" font-family="DejaVu Sans, sans-serif" stroke="#444" stroke-width="0.12" fill="#333" text-anchor="end">0</text>
<text transform="translate(66.37 348.5)" font-size="4.6" font-family="DejaVu Sans, sans-serif" stroke="#444" stroke-width="0.12" fill="#333" text-anchor="middle">200</text>
<text transform="translate(29 316.07)" font-size="4.6" font-family="DejaVu Sans, sans-serif" stroke="#444" stroke-width="0.12" fill="#333" text-anchor="end">200</text>
<text transform="translate(101.33 348.5)" font-size="4.6" font-family="DejaVu Sans, sans-serif" stroke="#444" stroke-width="0.12" fill="#333" text-anchor="middle">400</text>
<text transform="translate(29 287.64)" font-size="4.6" font-family="DejaVu Sans, sans-serif" stroke="#444" stroke-width="0.12" fill="#333" text-anchor="end">400</text>
<text transform="translate(136.3 348.5)" font-size="4.6" font-family="DejaVu Sans, sans-serif" stroke="#444" stroke-width="0.12" fill="#333" text-anchor="middle">600</text>
<text transform="translate(29 259.21)" font-size="4.6" font-family="DejaVu Sans, sans-serif" stroke="#444" stroke-width="0.12" fill="#333" text-anchor="end">600</text>
<text transform="translate(171.26 348.5)" font-size="4.6" font-family="DejaVu Sans, sans-serif" stroke="#444" stroke-width="0.12" fill="#333" text-anchor="middle">800</text>
<text transform="translate(29 230.78)" font-size="4.6" font-family="DejaVu Sans, sans-serif" stroke="#444" stroke-width="0.12" fill="#333" text-anchor="end">800</text>
<text transform="translate(206.23 348.5)" font-size="4.6" font-family="DejaVu Sans, sans-serif" stroke="#444" stroke-width="0.12" fill="#333" text-anchor="middle">1000</text>
<text transform="translate(29 202.35)" font-size="4.6" font-family="DejaVu Sans, sans-serif" stroke="#444" stroke-width="0.12" fill="#333" text-anchor="end">1000</text>
<text transform="translate(261.7 347.6)" font-size="4.6" font-family="DejaVu Sans, sans-serif" stroke="#444" stroke-width="0.12" fill="#333" text-anchor="middle">0</text>
<text transform="translate(259.3 343.6)" font-size="4.6" font-family="DejaVu Sans, sans-serif" stroke="#444" stroke-width="0.12" fill="#333" text-anchor="end">0</text>
<text transform="translate(300.4 347.6)" font-size="4.6" font-family="DejaVu Sans, sans-serif" stroke="#444" stroke-width="0.12" fill="#333" text-anchor="middle">1</text>
<text transform="translate(259.3 312.03)" font-size="4.6" font-family="DejaVu Sans, sans-serif" stroke="#444" stroke-width="0.12" fill="#333" text-anchor="end">1</text>
<text transform="translate(339.1 347.6)" font-size="4.6" font-family="DejaVu Sans, sans-serif" stroke="#444" stroke-width="0.12" fill="#333" text-anchor="middle">2</text>
<text transform="translate(259.3 280.46)" font-size="4.6" font-family="DejaVu Sans, sans-serif" stroke="#444" stroke-width="0.12" fill="#333" text-anchor="end">2</text>
<text transform="translate(377.79 347.6)" font-size="4.6" font-family="DejaVu Sans, sans-serif" stroke="#444" stroke-width="0.12" fill="#333" text-anchor="middle">3</text>
<text transform="translate(259.3 248.89)" font-size="4.6" font-family="DejaVu Sans, sans-serif" stroke="#444" stroke-width="0.12" fill="#333" text-anchor="end">3</text>
<text transform="translate(416.49 347.6)" font-size="4.6" font-family="DejaVu Sans, sans-serif" stroke="#444" stroke-width="0.12" fill="#333" text-anchor="middle">4</text>
<text transform="translate(259.3 217.32)" font-size="4.6" font-family="DejaVu Sans, sans-serif" stroke="#444" stroke-width="0.12" fill="#333" text-anchor="end">4</text>
<text transform="translate(38.47 531.3)" font-size="4.6" font-family="DejaVu Sans, sans-serif" stroke="#444" stroke-width="0.12" fill="#333" text-anchor="middle">0</text>
<text transform="translate(30.1 522.55)" font-size="4.6" font-family="DejaVu Sans, sans-serif" stroke="#444" stroke-width="0.12" fill="#333" text-anchor="end">0</text>
<text transform="translate(76.97 531.3)" font-size="4.6" font-family="DejaVu Sans, sans-serif" stroke="#444" stroke-width="0.12" fill="#333" text-anchor="middle">20</text>
<text transform="translate(30.1 491.91)" font-size="4.6" font-family="DejaVu Sans, sans-serif" stroke="#444" stroke-width="0.12" fill="#333" text-anchor="end">20</text>
<text transform="translate(115.46 531.3)" font-size="4.6" font-family="DejaVu Sans, sans-serif" stroke="#444" stroke-width="0.12" fill="#333" text-anchor="middle">40</text>
<text transform="translate(30.1 461.27)" font-size="4.6" font-family="DejaVu Sans, sans-serif" stroke="#444" stroke-width="0.12" fill="#333" text-anchor="end">40</text>
<text transform="translate(153.96 531.3)" font-size="4.6" font-family="DejaVu Sans, sans-serif" stroke="#444" stroke-width="0.12" fill="#333" text-anchor="middle">60</text>
<text transform="translate(30.1 430.62)" font-size="4.6" font-family="DejaVu Sans, sans-serif" stroke="#444" stroke-width="0.12" fill="#333" text-anchor="end">60</text>
<text transform="translate(192.46 531.3)" font-size="4.6" font-family="DejaVu Sans, sans-serif" stroke="#444" stroke-width="0.12" fill="#333" text-anchor="middle">80</text>
<text transform="translate(30.1 399.98)" font-size="4.6" font-family="DejaVu Sans, sans-serif" stroke="#444" stroke-width="0.12" fill="#333" text-anchor="end">80</text>
<text transform="translate(261.9 530.4)" font-size="4.6" font-family="DejaVu Sans, sans-serif" stroke="#444" stroke-width="0.12" fill="#333" text-anchor="middle">0.0</text>
<text transform="translate(259.5 526.4)" font-size="4.6" font-family="DejaVu Sans, sans-serif" stroke="#444" stroke-width="0.12" fill="#333" text-anchor="end">0.0</text>
<text transform="translate(288.62 530.4)" font-size="4.6" font-family="DejaVu Sans, sans-serif" stroke="#444" stroke-width="0.12" fill="#333" text-anchor="middle">0.5</text>
<text transform="translate(259.5 505.25)" font-size="4.6" font-family="DejaVu Sans, sans-serif" stroke="#444" stroke-width="0.12" fill="#333" text-anchor="end">0.5</text>
<text transform="translate(315.33 530.4)" font-size="4.6" font-family="DejaVu Sans, sans-serif" stroke="#444" stroke-width="0.12" fill="#333" text-anchor="middle">1.0</text>
<text transform="translate(259.5 484.1)" font-size="4.6" font-family="DejaVu Sans, sans-serif" stroke="#444" stroke-width="0.12" fill="#333" text-anchor="end">1.0</text>
<text transform="translate(342.05 530.4)" font-size="4.6" font-family="DejaVu Sans, sans-serif" stroke="#444" stroke-width="0.12" fill="#333" text-anchor="middle">1.5</text>
<text transform="translate(259.5 462.95)" font-size="4.6" font-family="DejaVu Sans, sans-serif" stroke="#444" stroke-width="0.12" fill="#333" text-anchor="end">1.5</text>
<text transform="translate(368.77 530.4)" font-size="4.6" font-family="DejaVu Sans, sans-serif" stroke="#444" stroke-width="0.12" fill="#333" text-anchor="middle">2.0</text>
<text transform="translate(259.5 441.8)" font-size="4.6" font-family="DejaVu Sans, sans-serif" stroke="#444" stroke-width="0.12" fill="#333" text-anchor="end">2.0</text>
<text transform="translate(395.49 530.4)" font-size="4.6" font-family="DejaVu Sans, sans-serif" stroke="#444" stroke-width="0.12" fill="#333" text-anchor="middle">2.5</text>
<text transform="translate(259.5 420.65)" font-size="4.6" font-family="DejaVu Sans, sans-serif" stroke="#444" stroke-width="0.12" fill="#333" text-anchor="end">2.5</text>
<text transform="translate(422.2 530.4)" font-size="4.6" font-family="DejaVu Sans, sans-serif" stroke="#444" stroke-width="0.12" fill="#333" text-anchor="middle">3.0</text>
<text transform="translate(259.5 399.5)" font-size="4.6" font-family="DejaVu Sans, sans-serif" stroke="#444" stroke-width="0.12" fill="#333" text-anchor="end">3.0</text>
<text transform="translate(120.9 11.7) scale(0.9941 1)" font-size="8.5" font-family="DejaVu Sans, sans-serif" font-weight="bold" stroke="#000" stroke-width="0.18" fill="#000" text-anchor="middle">Canola /Dry Biomass / Deep ANN</text>
<text transform="translate(36.1 23.9) scale(1.1167 1)" font-size="9" font-family="DejaVu Sans, sans-serif" font-weight="bold" stroke="#000" stroke-width="0.18" fill="#000">RMSE: 25.80</text>
<text transform="translate(36.1 34.3) scale(1.1167 1)" font-size="9" font-family="DejaVu Sans, sans-serif" font-weight="bold" stroke="#000" stroke-width="0.18" fill="#000">MAE: 18.07</text>
<text transform="translate(36.1 44.6) scale(1.1167 1)" font-size="9" font-family="DejaVu Sans, sans-serif" font-weight="bold" stroke="#000" stroke-width="0.18" fill="#000">R: 0.95</text>
<text transform="translate(63.52 171.1) scale(0.9961 1)" font-size="7.6" font-family="DejaVu Sans, sans-serif" font-weight="bold" stroke="#000" stroke-width="0.18" fill="#000">Observed Dry Biomass</text>
<text transform="translate(163.26 171.1) scale(0.9961 1)" font-size="7.6" font-family="DejaVu Sans, sans-serif" font-weight="bold" stroke="#000" stroke-width="0.18" fill="#000">(</text>
<text transform="translate(170.9 166.8) scale(1.1500 1)" font-size="5" font-family="DejaVu Sans, sans-serif" font-style="italic" fill="#333" text-anchor="middle">g</text>
<text transform="translate(170.9 174.4) scale(1.1500 1)" font-size="5" font-family="DejaVu Sans, sans-serif" font-style="italic" fill="#333" text-anchor="middle">m<tspan font-size="3.4" dy="-2">2</tspan></text>
<text transform="translate(175.39 171.1) scale(0.9961 1)" font-size="7.6" font-family="DejaVu Sans, sans-serif" font-weight="bold" stroke="#000" stroke-width="0.18" fill="#000">)</text>
<text transform="translate(15.8 139.64) rotate(-90) scale(0.8875 1)" font-size="8" font-family="DejaVu Sans, sans-serif" font-weight="bold" stroke="#000" stroke-width="0.18" fill="#000">Estimated Dry Biomass</text>
<text transform="translate(15.8 44.4) rotate(-90) scale(0.8875 1)" font-size="8" font-family="DejaVu Sans, sans-serif" font-weight="bold" stroke="#000" stroke-width="0.18" fill="#000">(</text>
<text transform="translate(11.3 37.65) rotate(-90) scale(0.9500 1)" font-size="5" font-family="DejaVu Sans, sans-serif" font-style="italic" fill="#333" text-anchor="middle">g</text>
<text transform="translate(18.9 37.65) rotate(-90) scale(0.9500 1)" font-size="5" font-family="DejaVu Sans, sans-serif" font-style="italic" fill="#333" text-anchor="middle">m<tspan font-size="3.4" dy="-2">2</tspan></text>
<text transform="translate(15.8 32.88) rotate(-90) scale(0.8875 1)" font-size="8" font-family="DejaVu Sans, sans-serif" font-weight="bold" stroke="#000" stroke-width="0.18" fill="#000">)</text>
<text transform="translate(350.1 10.9) scale(1.1608 1)" font-size="7.9" font-family="DejaVu Sans, sans-serif" font-weight="bold" stroke="#000" stroke-width="0.18" fill="#000" text-anchor="middle">Canola / LAI / Deep ANN</text>
<text transform="translate(268.21 24.2) scale(1.1033 1)" font-size="9" font-family="DejaVu Sans, sans-serif" font-weight="bold" stroke="#000" stroke-width="0.18" fill="#000">RMSE: 0.525</text>
<text transform="translate(268.21 35.5) scale(1.1033 1)" font-size="9" font-family="DejaVu Sans, sans-serif" font-weight="bold" stroke="#000" stroke-width="0.18" fill="#000">MAE: 0.405</text>
<text transform="translate(268.21 46.5) scale(1.1033 1)" font-size="9" font-family="DejaVu Sans, sans-serif" font-weight="bold" stroke="#000" stroke-width="0.18" fill="#000">R: 0.95</text>
<text transform="translate(313.63 171.5) scale(0.9658 1)" font-size="7.6" font-family="DejaVu Sans, sans-serif" font-weight="bold" stroke="#000" stroke-width="0.18" fill="#000">Observed LAI</text>
<text transform="translate(371.98 171.5) scale(0.9658 1)" font-size="7.6" font-family="DejaVu Sans, sans-serif" font-weight="bold" stroke="#000" stroke-width="0.18" fill="#000">(</text>
<text transform="translate(379.75 167.7) scale(1.1500 1)" font-size="5" font-family="DejaVu Sans, sans-serif" font-style="italic" fill="#333" text-anchor="middle">m<tspan font-size="3.4" dy="-2">2</tspan></text>
<text transform="translate(379.75 174.7) scale(1.1500 1)" font-size="5" font-family="DejaVu Sans, sans-serif" font-style="italic" fill="#333" text-anchor="middle">m<tspan font-size="3.4" dy="-2">2</tspan></text>
<text transform="translate(384.71 171.5) scale(0.9658 1)" font-size="7.6" font-family="DejaVu Sans, sans-serif" font-weight="bold" stroke="#000" stroke-width="0.18" fill="#000">)</text>
<text transform="translate(251.4 120.43) rotate(-90) scale(0.9038 1)" font-size="7.8" font-family="DejaVu Sans, sans-serif" font-weight="bold" stroke="#000" stroke-width="0.18" fill="#000">Estimated LAI</text>
<text transform="translate(251.4 62.4) rotate(-90) scale(0.9038 1)" font-size="7.8" font-family="DejaVu Sans, sans-serif" font-weight="bold" stroke="#000" stroke-width="0.18" fill="#000">(</text>
<text transform="translate(247.3 55.95) rotate(-90) scale(0.9500 1)" font-size="5" font-family="DejaVu Sans, sans-serif" font-style="italic" fill="#333" text-anchor="middle">m<tspan font-size="3.4" dy="-2">2</tspan></text>
<text transform="translate(254.3 55.95) rotate(-90) scale(0.9500 1)" font-size="5" font-family="DejaVu Sans, sans-serif" font-style="italic" fill="#333" text-anchor="middle">m<tspan font-size="3.4" dy="-2">2</tspan></text>
<text transform="translate(251.4 51.96) rotate(-90) scale(0.9038 1)" font-size="7.8" font-family="DejaVu Sans, sans-serif" font-weight="bold" stroke="#000" stroke-width="0.18" fill="#000">)</text>
<text transform="translate(120.05 196.3) scale(1.0335 1)" font-size="8.2" font-family="DejaVu Sans, sans-serif" font-weight="bold" stroke="#000" stroke-width="0.18" fill="#000" text-anchor="middle">Corn /Dry Biomass / Deep ANN</text>
<text transform="translate(36.59 210.6) scale(1.1289 1)" font-size="9" font-family="DejaVu Sans, sans-serif" font-weight="bold" stroke="#000" stroke-width="0.18" fill="#000">RMSE: 54.43</text>
<text transform="translate(36.59 221.1) scale(1.1289 1)" font-size="9" font-family="DejaVu Sans, sans-serif" font-weight="bold" stroke="#000" stroke-width="0.18" fill="#000">MAE: 40.34</text>
<text transform="translate(36.59 231.3) scale(1.1289 1)" font-size="9" font-family="DejaVu Sans, sans-serif" font-weight="bold" stroke="#000" stroke-width="0.18" fill="#000">R: 0.97</text>
<text transform="translate(62.52 357.6)" font-size="7.6" font-family="DejaVu Sans, sans-serif" font-weight="bold" stroke="#000" stroke-width="0.18" fill="#000">Observed Dry Biomass</text>
<text transform="translate(162.65 357.6)" font-size="7.6" font-family="DejaVu Sans, sans-serif" font-weight="bold" stroke="#000" stroke-width="0.18" fill="#000">(</text>
<text transform="translate(169.7 353.9) scale(1.1500 1)" font-size="5" font-family="DejaVu Sans, sans-serif" font-style="italic" fill="#333" text-anchor="middle">g</text>
<text transform="translate(169.7 361.5) scale(1.1500 1)" font-size="5" font-family="DejaVu Sans, sans-serif" font-style="italic" fill="#333" text-anchor="middle">m<tspan font-size="3.4" dy="-2">2</tspan></text>
<text transform="translate(174.89 357.6)" font-size="7.6" font-family="DejaVu Sans, sans-serif" font-weight="bold" stroke="#000" stroke-width="0.18" fill="#000">)</text>
<text transform="translate(348.75 196.3) scale(1.1207 1)" font-size="8.2" font-family="DejaVu Sans, sans-serif" font-weight="bold" stroke="#000" stroke-width="0.18" fill="#000" text-anchor="middle">Corn / LAI / Deep ANN</text>
<text transform="translate(269.4 208.8) scale(1.1122 1)" font-size="9" font-family="DejaVu Sans, sans-serif" font-weight="bold" stroke="#000" stroke-width="0.18" fill="#000">RMSE: 0.273</text>
<text transform="translate(269.4 220) scale(1.1122 1)" font-size="9" font-family="DejaVu Sans, sans-serif" font-weight="bold" stroke="#000" stroke-width="0.18" fill="#000">MAE: 0.163</text>
<text transform="translate(269.4 231.5) scale(1.1122 1)" font-size="9" font-family="DejaVu Sans, sans-serif" font-weight="bold" stroke="#000" stroke-width="0.18" fill="#000">R: 0.96</text>
<text transform="translate(311.83 357.8) scale(0.9711 1)" font-size="7.6" font-family="DejaVu Sans, sans-serif" font-weight="bold" stroke="#000" stroke-width="0.18" fill="#000">Observed LAI</text>
<text transform="translate(370.37 357.8) scale(0.9711 1)" font-size="7.6" font-family="DejaVu Sans, sans-serif" font-weight="bold" stroke="#000" stroke-width="0.18" fill="#000">(</text>
<text transform="translate(377.45 353.3) scale(1.1500 1)" font-size="5" font-family="DejaVu Sans, sans-serif" font-style="italic" fill="#333" text-anchor="middle">m<tspan font-size="3.4" dy="-2">2</tspan></text>
<text transform="translate(377.45 360.3) scale(1.1500 1)" font-size="5" font-family="DejaVu Sans, sans-serif" font-style="italic" fill="#333" text-anchor="middle">m<tspan font-size="3.4" dy="-2">2</tspan></text>
<text transform="translate(383.41 357.8) scale(0.9711 1)" font-size="7.6" font-family="DejaVu Sans, sans-serif" font-weight="bold" stroke="#000" stroke-width="0.18" fill="#000">)</text>
<text transform="translate(120.85 381.6) scale(1.0322 1)" font-size="8.2" font-family="DejaVu Sans, sans-serif" font-weight="bold" stroke="#000" stroke-width="0.18" fill="#000" text-anchor="middle">Soybean /Dry Biomass / Deep ANN</text>
<text transform="translate(39.59 394.9) scale(1.1278 1)" font-size="9" font-family="DejaVu Sans, sans-serif" font-weight="bold" stroke="#000" stroke-width="0.18" fill="#000">RMSE: 4.95</text>
<text transform="translate(39.59 406.3) scale(1.1278 1)" font-size="9" font-family="DejaVu Sans, sans-serif" font-weight="bold" stroke="#000" stroke-width="0.18" fill="#000">MAE: 3.11</text>
<text transform="translate(39.59 417.4) scale(1.1278 1)" font-size="9" font-family="DejaVu Sans, sans-serif" font-weight="bold" stroke="#000" stroke-width="0.18" fill="#000">R: 0.94</text>
<text transform="translate(63.62 540.1) scale(0.9974 1)" font-size="7.6" font-family="DejaVu Sans, sans-serif" font-weight="bold" stroke="#000" stroke-width="0.18" fill="#000">Observed Dry Biomass</text>
<text transform="translate(163.56 540.1) scale(0.9974 1)" font-size="7.6" font-family="DejaVu Sans, sans-serif" font-weight="bold" stroke="#000" stroke-width="0.18" fill="#000">(</text>
<text transform="translate(170.85 536.4) scale(1.1500 1)" font-size="5" font-family="DejaVu Sans, sans-serif" font-style="italic" fill="#333" text-anchor="middle">g</text>
<text transform="translate(170.85 544) scale(1.1500 1)" font-size="5" font-family="DejaVu Sans, sans-serif" font-style="italic" fill="#333" text-anchor="middle">m<tspan font-size="3.4" dy="-2">2</tspan></text>
<text transform="translate(175.99 540.1) scale(0.9974 1)" font-size="7.6" font-family="DejaVu Sans, sans-serif" font-weight="bold" stroke="#000" stroke-width="0.18" fill="#000">)</text>
<text transform="translate(11.8 326.25) rotate(-90) scale(0.9256 1)" font-size="7.8" font-family="DejaVu Sans, sans-serif" font-weight="bold" stroke="#000" stroke-width="0.18" fill="#000">Estimated Dry Biomass</text>
<text transform="translate(11.8 229.61) rotate(-90) scale(0.9256 1)" font-size="7.8" font-family="DejaVu Sans, sans-serif" font-weight="bold" stroke="#000" stroke-width="0.18" fill="#000">(</text>
<text transform="translate(7.5 222.6) rotate(-90) scale(0.9500 1)" font-size="5" font-family="DejaVu Sans, sans-serif" font-style="italic" fill="#333" text-anchor="middle">g</text>
<text transform="translate(15.1 222.6) rotate(-90) scale(0.9500 1)" font-size="5" font-family="DejaVu Sans, sans-serif" font-style="italic" fill="#333" text-anchor="middle">m<tspan font-size="3.4" dy="-2">2</tspan></text>
<text transform="translate(11.8 217.82) rotate(-90) scale(0.9256 1)" font-size="7.8" font-family="DejaVu Sans, sans-serif" font-weight="bold" stroke="#000" stroke-width="0.18" fill="#000">)</text>
<text transform="translate(249.1 306.43) rotate(-90) scale(0.8910 1)" font-size="7.8" font-family="DejaVu Sans, sans-serif" font-weight="bold" stroke="#000" stroke-width="0.18" fill="#000">Estimated LAI</text>
<text transform="translate(249.1 248.09) rotate(-90) scale(0.8910 1)" font-size="7.8" font-family="DejaVu Sans, sans-serif" font-weight="bold" stroke="#000" stroke-width="0.18" fill="#000">(</text>
<text transform="translate(245.1 241.25) rotate(-90) scale(0.9500 1)" font-size="5" font-family="DejaVu Sans, sans-serif" font-style="italic" fill="#333" text-anchor="middle">m<tspan font-size="3.4" dy="-2">2</tspan></text>
<text transform="translate(252.1 241.25) rotate(-90) scale(0.9500 1)" font-size="5" font-family="DejaVu Sans, sans-serif" font-style="italic" fill="#333" text-anchor="middle">m<tspan font-size="3.4" dy="-2">2</tspan></text>
<text transform="translate(249.1 237.02) rotate(-90) scale(0.8910 1)" font-size="7.8" font-family="DejaVu Sans, sans-serif" font-weight="bold" stroke="#000" stroke-width="0.18" fill="#000">)</text>
<text transform="translate(19.1 508.63) rotate(-90) scale(0.9026 1)" font-size="7.8" font-family="DejaVu Sans, sans-serif" font-weight="bold" stroke="#000" stroke-width="0.18" fill="#000">Estimated Dry Biomass</text>
<text transform="translate(19.1 414.1) rotate(-90) scale(0.9026 1)" font-size="7.8" font-family="DejaVu Sans, sans-serif" font-weight="bold" stroke="#000" stroke-width="0.18" fill="#000">(</text>
<text transform="translate(14.3 406.85) rotate(-90) scale(0.9500 1)" font-size="5" font-family="DejaVu Sans, sans-serif" font-style="italic" fill="#333" text-anchor="middle">g</text>
<text transform="translate(21.9 406.85) rotate(-90) scale(0.9500 1)" font-size="5" font-family="DejaVu Sans, sans-serif" font-style="italic" fill="#333" text-anchor="middle">m<tspan font-size="3.4" dy="-2">2</tspan></text>
<text transform="translate(19.1 402.75) rotate(-90) scale(0.9026 1)" font-size="7.8" font-family="DejaVu Sans, sans-serif" font-weight="bold" stroke="#000" stroke-width="0.18" fill="#000">)</text>
<text transform="translate(245.1 489.92) rotate(-90) scale(0.8846 1)" font-size="7.8" font-family="DejaVu Sans, sans-serif" font-weight="bold" stroke="#000" stroke-width="0.18" fill="#000">Estimated LAI</text>
<text transform="translate(245.1 432.29) rotate(-90) scale(0.8846 1)" font-size="7.8" font-family="DejaVu Sans, sans-serif" font-weight="bold" stroke="#000" stroke-width="0.18" fill="#000">(</text>
<text transform="translate(241.2 425.85) rotate(-90) scale(0.9500 1)" font-size="5" font-family="DejaVu Sans, sans-serif" font-style="italic" fill="#333" text-anchor="middle">m<tspan font-size="3.4" dy="-2">2</tspan></text>
<text transform="translate(248.2 425.85) rotate(-90) scale(0.9500 1)" font-size="5" font-family="DejaVu Sans, sans-serif" font-style="italic" fill="#333" text-anchor="middle">m<tspan font-size="3.4" dy="-2">2</tspan></text>
<text transform="translate(245.1 421.5) rotate(-90) scale(0.8846 1)" font-size="7.8" font-family="DejaVu Sans, sans-serif" font-weight="bold" stroke="#000" stroke-width="0.18" fill="#000">)</text>
<text transform="translate(350 381.9) scale(1.0296 1)" font-size="8.2" font-family="DejaVu Sans, sans-serif" font-weight="bold" stroke="#000" stroke-width="0.18" fill="#000" text-anchor="middle">Soybean / LAI / Deep ANN</text>
<text transform="translate(267.2 396) scale(1.1111 1)" font-size="9" font-family="DejaVu Sans, sans-serif" font-weight="bold" stroke="#000" stroke-width="0.18" fill="#000">RMSE: 0.211</text>
<text transform="translate(267.2 406.4) scale(1.1111 1)" font-size="9" font-family="DejaVu Sans, sans-serif" font-weight="bold" stroke="#000" stroke-width="0.18" fill="#000">MAE: 0.149</text>
<text transform="translate(267.2 416.7) scale(1.1111 1)" font-size="9" font-family="DejaVu Sans, sans-serif" font-weight="bold" stroke="#000" stroke-width="0.18" fill="#000">R: 0.95</text>
<text transform="translate(312.53 539.9) scale(0.9803 1)" font-size="7.6" font-family="DejaVu Sans, sans-serif" font-weight="bold" stroke="#000" stroke-width="0.18" fill="#000">Observed LAI</text>
<text transform="translate(371.67 539.9) scale(0.9803 1)" font-size="7.6" font-family="DejaVu Sans, sans-serif" font-weight="bold" stroke="#000" stroke-width="0.18" fill="#000">(</text>
<text transform="translate(379 536.3) scale(1.1500 1)" font-size="5" font-family="DejaVu Sans, sans-serif" font-style="italic" fill="#333" text-anchor="middle">m<tspan font-size="3.4" dy="-2">2</tspan></text>
<text transform="translate(379 543.3) scale(1.1500 1)" font-size="5" font-family="DejaVu Sans, sans-serif" font-style="italic" fill="#333" text-anchor="middle">m<tspan font-size="3.4" dy="-2">2</tspan></text>
<text transform="translate(384.6 539.9) scale(0.9803 1)" font-size="7.6" font-family="DejaVu Sans, sans-serif" font-weight="bold" stroke="#000" stroke-width="0.18" fill="#000">)</text>
<text transform="translate(200.1 153.8)" font-size="13" font-family="Liberation Sans, sans-serif" font-weight="bold" stroke="#000" stroke-width="0.45" fill="#000">a</text>
<text transform="translate(428 153.7) scale(0.9800 1)" font-size="14.4" font-family="Liberation Sans, sans-serif" font-weight="bold" stroke="#000" stroke-width="0.45" fill="#000">b</text>
<text transform="translate(199.9 340.7)" font-size="12.2" font-family="Liberation Sans, sans-serif" font-weight="bold" stroke="#000" stroke-width="0.45" fill="#000">c</text>
<text transform="translate(426.9 340) scale(1.1000 1)" font-size="12.8" font-family="Liberation Sans, sans-serif" font-weight="bold" stroke="#000" stroke-width="0.45" fill="#000">d</text>
<text transform="translate(199.9 524) scale(1.1500 1)" font-size="13.5" font-family="Liberation Sans, sans-serif" font-weight="bold" stroke="#000" stroke-width="0.45" fill="#000">e</text>
<text transform="translate(431.8 522.8) scale(1.1000 1)" font-size="14.6" font-family="Liberation Sans, sans-serif" font-weight="bold" stroke="#000" stroke-width="0.45" fill="#000">f</text>
</svg>
</body></html>
